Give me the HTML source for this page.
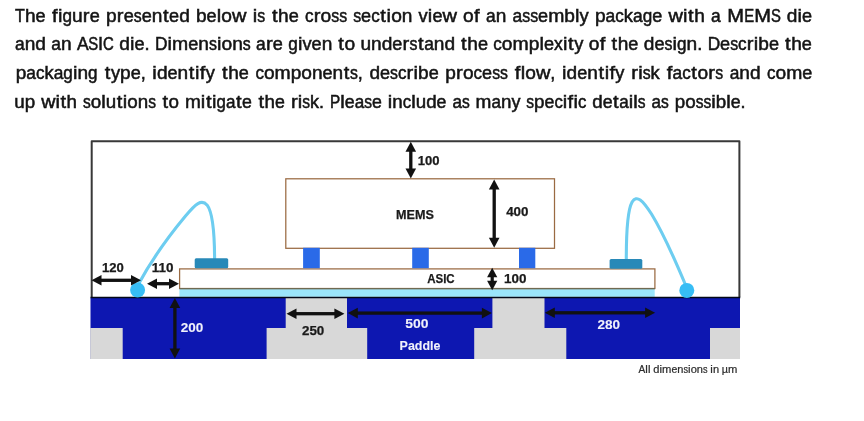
<!DOCTYPE html>
<html><head><meta charset="utf-8">
<style>
html,body{margin:0;padding:0;background:#fff;}
body{width:864px;height:421px;overflow:hidden;position:relative;}
svg{position:absolute;left:0;top:0;filter:blur(0.3px);}
.p{font-family:"Liberation Sans",sans-serif;font-size:17.5px;fill:#141414;stroke:#141414;stroke-width:0.5px;}
.b{font-family:"Liberation Sans",sans-serif;font-weight:bold;font-size:12.5px;fill:#1a1a1a;stroke:#1a1a1a;stroke-width:0.25px;}
.w{fill:#f0f1fb;stroke:#f0f1fb;stroke-width:0.1px;}
.s{font-family:"Liberation Sans",sans-serif;font-size:10px;fill:#2c2c2c;stroke:#2c2c2c;stroke-width:0.2px;}
</style></head>
<body>
<svg width="864" height="421" viewBox="0 0 864 421">
<text class="p" y="21.5"><tspan x="15.04" textLength="9.86" lengthAdjust="spacingAndGlyphs">T</tspan><tspan x="24.90" textLength="10.63" lengthAdjust="spacingAndGlyphs">h</tspan><tspan x="35.52" textLength="10.06" lengthAdjust="spacingAndGlyphs">e</tspan> <tspan x="52.05" textLength="5.59" lengthAdjust="spacingAndGlyphs">f</tspan><tspan x="58.01" textLength="4.47" lengthAdjust="spacingAndGlyphs">i</tspan><tspan x="62.57" textLength="9.52" lengthAdjust="spacingAndGlyphs">g</tspan><tspan x="72.09" textLength="10.63" lengthAdjust="spacingAndGlyphs">u</tspan><tspan x="82.89" textLength="6.70" lengthAdjust="spacingAndGlyphs">r</tspan><tspan x="89.77" textLength="10.06" lengthAdjust="spacingAndGlyphs">e</tspan> <tspan x="106.00" textLength="10.63" lengthAdjust="spacingAndGlyphs">p</tspan><tspan x="116.80" textLength="6.70" lengthAdjust="spacingAndGlyphs">r</tspan><tspan x="123.68" textLength="10.06" lengthAdjust="spacingAndGlyphs">e</tspan><tspan x="133.74" textLength="7.91" lengthAdjust="spacingAndGlyphs">s</tspan><tspan x="141.66" textLength="10.06" lengthAdjust="spacingAndGlyphs">e</tspan><tspan x="151.72" textLength="10.63" lengthAdjust="spacingAndGlyphs">n</tspan><tspan x="162.94" textLength="5.59" lengthAdjust="spacingAndGlyphs">t</tspan><tspan x="169.12" textLength="10.06" lengthAdjust="spacingAndGlyphs">e</tspan><tspan x="179.19" textLength="10.63" lengthAdjust="spacingAndGlyphs">d</tspan> <tspan x="195.98" textLength="10.63" lengthAdjust="spacingAndGlyphs">b</tspan><tspan x="206.61" textLength="10.06" lengthAdjust="spacingAndGlyphs">e</tspan><tspan x="216.76" textLength="4.47" lengthAdjust="spacingAndGlyphs">l</tspan><tspan x="221.31" textLength="10.67" lengthAdjust="spacingAndGlyphs">o</tspan><tspan x="231.98" textLength="14.46" lengthAdjust="spacingAndGlyphs">w</tspan> <tspan x="252.69" textLength="4.47" lengthAdjust="spacingAndGlyphs">i</tspan><tspan x="257.25" textLength="7.91" lengthAdjust="spacingAndGlyphs">s</tspan> <tspan x="271.92" textLength="5.59" lengthAdjust="spacingAndGlyphs">t</tspan><tspan x="278.10" textLength="10.63" lengthAdjust="spacingAndGlyphs">h</tspan><tspan x="288.73" textLength="10.06" lengthAdjust="spacingAndGlyphs">e</tspan> <tspan x="304.96" textLength="8.55" lengthAdjust="spacingAndGlyphs">c</tspan><tspan x="313.69" textLength="6.70" lengthAdjust="spacingAndGlyphs">r</tspan><tspan x="320.57" textLength="10.67" lengthAdjust="spacingAndGlyphs">o</tspan><tspan x="331.23" textLength="7.91" lengthAdjust="spacingAndGlyphs">s</tspan><tspan x="339.14" textLength="7.91" lengthAdjust="spacingAndGlyphs">s</tspan> <tspan x="353.22" textLength="7.91" lengthAdjust="spacingAndGlyphs">s</tspan><tspan x="361.13" textLength="10.06" lengthAdjust="spacingAndGlyphs">e</tspan><tspan x="371.20" textLength="8.55" lengthAdjust="spacingAndGlyphs">c</tspan><tspan x="380.34" textLength="5.59" lengthAdjust="spacingAndGlyphs">t</tspan><tspan x="386.61" textLength="4.47" lengthAdjust="spacingAndGlyphs">i</tspan><tspan x="391.17" textLength="10.67" lengthAdjust="spacingAndGlyphs">o</tspan><tspan x="401.83" textLength="10.63" lengthAdjust="spacingAndGlyphs">n</tspan> <tspan x="418.63" textLength="9.14" lengthAdjust="spacingAndGlyphs">v</tspan><tspan x="427.85" textLength="4.47" lengthAdjust="spacingAndGlyphs">i</tspan><tspan x="432.41" textLength="10.06" lengthAdjust="spacingAndGlyphs">e</tspan><tspan x="442.47" textLength="14.46" lengthAdjust="spacingAndGlyphs">w</tspan> <tspan x="463.10" textLength="10.67" lengthAdjust="spacingAndGlyphs">o</tspan><tspan x="474.05" textLength="5.59" lengthAdjust="spacingAndGlyphs">f</tspan> <tspan x="486.10" textLength="9.69" lengthAdjust="spacingAndGlyphs">a</tspan><tspan x="495.79" textLength="10.63" lengthAdjust="spacingAndGlyphs">n</tspan> <tspan x="512.58" textLength="9.69" lengthAdjust="spacingAndGlyphs">a</tspan><tspan x="522.27" textLength="7.91" lengthAdjust="spacingAndGlyphs">s</tspan><tspan x="530.18" textLength="7.91" lengthAdjust="spacingAndGlyphs">s</tspan><tspan x="538.10" textLength="10.06" lengthAdjust="spacingAndGlyphs">e</tspan><tspan x="548.16" textLength="16.16" lengthAdjust="spacingAndGlyphs">m</tspan><tspan x="564.32" textLength="10.63" lengthAdjust="spacingAndGlyphs">b</tspan><tspan x="575.03" textLength="4.47" lengthAdjust="spacingAndGlyphs">l</tspan><tspan x="579.59" textLength="9.16" lengthAdjust="spacingAndGlyphs">y</tspan> <tspan x="594.91" textLength="10.63" lengthAdjust="spacingAndGlyphs">p</tspan><tspan x="605.54" textLength="9.69" lengthAdjust="spacingAndGlyphs">a</tspan><tspan x="615.23" textLength="8.55" lengthAdjust="spacingAndGlyphs">c</tspan><tspan x="623.78" textLength="9.20" lengthAdjust="spacingAndGlyphs">k</tspan><tspan x="632.97" textLength="9.69" lengthAdjust="spacingAndGlyphs">a</tspan><tspan x="642.66" textLength="9.52" lengthAdjust="spacingAndGlyphs">g</tspan><tspan x="652.18" textLength="10.06" lengthAdjust="spacingAndGlyphs">e</tspan> <tspan x="668.41" textLength="14.46" lengthAdjust="spacingAndGlyphs">w</tspan><tspan x="682.96" textLength="4.47" lengthAdjust="spacingAndGlyphs">i</tspan><tspan x="688.11" textLength="5.59" lengthAdjust="spacingAndGlyphs">t</tspan><tspan x="694.29" textLength="10.63" lengthAdjust="spacingAndGlyphs">h</tspan> <tspan x="711.08" textLength="9.69" lengthAdjust="spacingAndGlyphs">a</tspan> <tspan x="727.21" textLength="16.76" lengthAdjust="spacingAndGlyphs">M</tspan><tspan x="744.21" textLength="9.92" lengthAdjust="spacingAndGlyphs">E</tspan><tspan x="754.38" textLength="16.76" lengthAdjust="spacingAndGlyphs">M</tspan><tspan x="771.09" textLength="9.92" lengthAdjust="spacingAndGlyphs">S</tspan> <tspan x="786.87" textLength="10.63" lengthAdjust="spacingAndGlyphs">d</tspan><tspan x="797.58" textLength="4.47" lengthAdjust="spacingAndGlyphs">i</tspan><tspan x="802.13" textLength="10.06" lengthAdjust="spacingAndGlyphs">e</tspan></text>
<text class="p" y="50.2"><tspan x="14.99" textLength="9.70" lengthAdjust="spacingAndGlyphs">a</tspan><tspan x="24.68" textLength="10.64" lengthAdjust="spacingAndGlyphs">n</tspan><tspan x="35.32" textLength="10.64" lengthAdjust="spacingAndGlyphs">d</tspan> <tspan x="51.29" textLength="9.70" lengthAdjust="spacingAndGlyphs">a</tspan><tspan x="60.99" textLength="10.64" lengthAdjust="spacingAndGlyphs">n</tspan> <tspan x="76.96" textLength="11.71" lengthAdjust="spacingAndGlyphs">A</tspan><tspan x="88.37" textLength="9.92" lengthAdjust="spacingAndGlyphs">S</tspan><tspan x="97.98" textLength="5.10" lengthAdjust="spacingAndGlyphs">I</tspan><tspan x="103.08" textLength="10.79" lengthAdjust="spacingAndGlyphs">C</tspan> <tspan x="119.21" textLength="10.64" lengthAdjust="spacingAndGlyphs">d</tspan><tspan x="129.93" textLength="4.47" lengthAdjust="spacingAndGlyphs">i</tspan><tspan x="134.49" textLength="10.07" lengthAdjust="spacingAndGlyphs">e</tspan><tspan x="144.57" textLength="5.11" lengthAdjust="spacingAndGlyphs">.</tspan> <tspan x="155.01" textLength="12.45" lengthAdjust="spacingAndGlyphs">D</tspan><tspan x="167.56" textLength="4.47" lengthAdjust="spacingAndGlyphs">i</tspan><tspan x="172.11" textLength="16.17" lengthAdjust="spacingAndGlyphs">m</tspan><tspan x="188.28" textLength="10.07" lengthAdjust="spacingAndGlyphs">e</tspan><tspan x="198.36" textLength="10.64" lengthAdjust="spacingAndGlyphs">n</tspan><tspan x="208.99" textLength="7.92" lengthAdjust="spacingAndGlyphs">s</tspan><tspan x="217.00" textLength="4.47" lengthAdjust="spacingAndGlyphs">i</tspan><tspan x="221.56" textLength="10.68" lengthAdjust="spacingAndGlyphs">o</tspan><tspan x="232.23" textLength="10.64" lengthAdjust="spacingAndGlyphs">n</tspan><tspan x="242.87" textLength="7.92" lengthAdjust="spacingAndGlyphs">s</tspan> <tspan x="256.12" textLength="9.70" lengthAdjust="spacingAndGlyphs">a</tspan><tspan x="266.00" textLength="6.70" lengthAdjust="spacingAndGlyphs">r</tspan><tspan x="272.88" textLength="10.07" lengthAdjust="spacingAndGlyphs">e</tspan> <tspan x="288.29" textLength="9.53" lengthAdjust="spacingAndGlyphs">g</tspan><tspan x="297.90" textLength="4.47" lengthAdjust="spacingAndGlyphs">i</tspan><tspan x="302.46" textLength="9.14" lengthAdjust="spacingAndGlyphs">v</tspan><tspan x="311.61" textLength="10.07" lengthAdjust="spacingAndGlyphs">e</tspan><tspan x="321.68" textLength="10.64" lengthAdjust="spacingAndGlyphs">n</tspan> <tspan x="338.25" textLength="5.59" lengthAdjust="spacingAndGlyphs">t</tspan><tspan x="344.43" textLength="10.68" lengthAdjust="spacingAndGlyphs">o</tspan> <tspan x="360.45" textLength="10.64" lengthAdjust="spacingAndGlyphs">u</tspan><tspan x="371.08" textLength="10.64" lengthAdjust="spacingAndGlyphs">n</tspan><tspan x="381.72" textLength="10.64" lengthAdjust="spacingAndGlyphs">d</tspan><tspan x="392.35" textLength="10.07" lengthAdjust="spacingAndGlyphs">e</tspan><tspan x="402.60" textLength="6.70" lengthAdjust="spacingAndGlyphs">r</tspan><tspan x="409.48" textLength="7.92" lengthAdjust="spacingAndGlyphs">s</tspan><tspan x="418.00" textLength="5.59" lengthAdjust="spacingAndGlyphs">t</tspan><tspan x="424.18" textLength="9.70" lengthAdjust="spacingAndGlyphs">a</tspan><tspan x="433.88" textLength="10.64" lengthAdjust="spacingAndGlyphs">n</tspan><tspan x="444.51" textLength="10.64" lengthAdjust="spacingAndGlyphs">d</tspan> <tspan x="461.08" textLength="5.59" lengthAdjust="spacingAndGlyphs">t</tspan><tspan x="467.27" textLength="10.64" lengthAdjust="spacingAndGlyphs">h</tspan><tspan x="477.90" textLength="10.07" lengthAdjust="spacingAndGlyphs">e</tspan> <tspan x="493.31" textLength="8.56" lengthAdjust="spacingAndGlyphs">c</tspan><tspan x="501.87" textLength="10.68" lengthAdjust="spacingAndGlyphs">o</tspan><tspan x="512.55" textLength="16.17" lengthAdjust="spacingAndGlyphs">m</tspan><tspan x="528.72" textLength="10.64" lengthAdjust="spacingAndGlyphs">p</tspan><tspan x="539.44" textLength="4.47" lengthAdjust="spacingAndGlyphs">l</tspan><tspan x="544.00" textLength="10.07" lengthAdjust="spacingAndGlyphs">e</tspan><tspan x="554.07" textLength="8.77" lengthAdjust="spacingAndGlyphs">x</tspan><tspan x="562.93" textLength="4.47" lengthAdjust="spacingAndGlyphs">i</tspan><tspan x="568.08" textLength="5.59" lengthAdjust="spacingAndGlyphs">t</tspan><tspan x="574.27" textLength="9.16" lengthAdjust="spacingAndGlyphs">y</tspan> <tspan x="588.77" textLength="10.68" lengthAdjust="spacingAndGlyphs">o</tspan><tspan x="599.74" textLength="5.59" lengthAdjust="spacingAndGlyphs">f</tspan> <tspan x="611.56" textLength="5.59" lengthAdjust="spacingAndGlyphs">t</tspan><tspan x="617.74" textLength="10.64" lengthAdjust="spacingAndGlyphs">h</tspan><tspan x="628.38" textLength="10.07" lengthAdjust="spacingAndGlyphs">e</tspan> <tspan x="643.79" textLength="10.64" lengthAdjust="spacingAndGlyphs">d</tspan><tspan x="654.42" textLength="10.07" lengthAdjust="spacingAndGlyphs">e</tspan><tspan x="664.50" textLength="7.92" lengthAdjust="spacingAndGlyphs">s</tspan><tspan x="672.50" textLength="4.47" lengthAdjust="spacingAndGlyphs">i</tspan><tspan x="677.06" textLength="9.53" lengthAdjust="spacingAndGlyphs">g</tspan><tspan x="686.59" textLength="10.64" lengthAdjust="spacingAndGlyphs">n</tspan><tspan x="697.22" textLength="5.11" lengthAdjust="spacingAndGlyphs">.</tspan> <tspan x="707.67" textLength="12.45" lengthAdjust="spacingAndGlyphs">D</tspan><tspan x="720.13" textLength="10.07" lengthAdjust="spacingAndGlyphs">e</tspan><tspan x="730.20" textLength="7.92" lengthAdjust="spacingAndGlyphs">s</tspan><tspan x="738.12" textLength="8.56" lengthAdjust="spacingAndGlyphs">c</tspan><tspan x="746.85" textLength="6.70" lengthAdjust="spacingAndGlyphs">r</tspan><tspan x="753.82" textLength="4.47" lengthAdjust="spacingAndGlyphs">i</tspan><tspan x="758.38" textLength="10.64" lengthAdjust="spacingAndGlyphs">b</tspan><tspan x="769.02" textLength="10.07" lengthAdjust="spacingAndGlyphs">e</tspan> <tspan x="785.02" textLength="5.59" lengthAdjust="spacingAndGlyphs">t</tspan><tspan x="791.21" textLength="10.64" lengthAdjust="spacingAndGlyphs">h</tspan><tspan x="801.84" textLength="10.07" lengthAdjust="spacingAndGlyphs">e</tspan></text>
<text class="p" y="78.9"><tspan x="15.74" textLength="10.60" lengthAdjust="spacingAndGlyphs">p</tspan><tspan x="26.34" textLength="9.66" lengthAdjust="spacingAndGlyphs">a</tspan><tspan x="36.00" textLength="8.53" lengthAdjust="spacingAndGlyphs">c</tspan><tspan x="44.53" textLength="9.17" lengthAdjust="spacingAndGlyphs">k</tspan><tspan x="53.70" textLength="9.66" lengthAdjust="spacingAndGlyphs">a</tspan><tspan x="63.37" textLength="9.50" lengthAdjust="spacingAndGlyphs">g</tspan><tspan x="72.94" textLength="4.47" lengthAdjust="spacingAndGlyphs">i</tspan><tspan x="77.49" textLength="10.60" lengthAdjust="spacingAndGlyphs">n</tspan><tspan x="88.09" textLength="9.50" lengthAdjust="spacingAndGlyphs">g</tspan> <tspan x="104.75" textLength="5.59" lengthAdjust="spacingAndGlyphs">t</tspan><tspan x="110.92" textLength="9.13" lengthAdjust="spacingAndGlyphs">y</tspan><tspan x="120.05" textLength="10.60" lengthAdjust="spacingAndGlyphs">p</tspan><tspan x="130.65" textLength="10.04" lengthAdjust="spacingAndGlyphs">e</tspan><tspan x="140.69" textLength="5.03" lengthAdjust="spacingAndGlyphs">,</tspan> <tspan x="152.38" textLength="4.47" lengthAdjust="spacingAndGlyphs">i</tspan><tspan x="156.93" textLength="10.60" lengthAdjust="spacingAndGlyphs">d</tspan><tspan x="167.53" textLength="10.04" lengthAdjust="spacingAndGlyphs">e</tspan><tspan x="177.56" textLength="10.60" lengthAdjust="spacingAndGlyphs">n</tspan><tspan x="188.74" textLength="5.59" lengthAdjust="spacingAndGlyphs">t</tspan><tspan x="195.00" textLength="4.47" lengthAdjust="spacingAndGlyphs">i</tspan><tspan x="199.83" textLength="5.59" lengthAdjust="spacingAndGlyphs">f</tspan><tspan x="205.70" textLength="9.13" lengthAdjust="spacingAndGlyphs">y</tspan> <tspan x="222.00" textLength="5.59" lengthAdjust="spacingAndGlyphs">t</tspan><tspan x="228.17" textLength="10.60" lengthAdjust="spacingAndGlyphs">h</tspan><tspan x="238.77" textLength="10.04" lengthAdjust="spacingAndGlyphs">e</tspan> <tspan x="255.38" textLength="8.53" lengthAdjust="spacingAndGlyphs">c</tspan><tspan x="263.91" textLength="10.64" lengthAdjust="spacingAndGlyphs">o</tspan><tspan x="274.55" textLength="16.11" lengthAdjust="spacingAndGlyphs">m</tspan><tspan x="290.67" textLength="10.60" lengthAdjust="spacingAndGlyphs">p</tspan><tspan x="301.27" textLength="10.64" lengthAdjust="spacingAndGlyphs">o</tspan><tspan x="311.90" textLength="10.60" lengthAdjust="spacingAndGlyphs">n</tspan><tspan x="322.50" textLength="10.04" lengthAdjust="spacingAndGlyphs">e</tspan><tspan x="332.54" textLength="10.60" lengthAdjust="spacingAndGlyphs">n</tspan><tspan x="343.72" textLength="5.59" lengthAdjust="spacingAndGlyphs">t</tspan><tspan x="349.89" textLength="7.89" lengthAdjust="spacingAndGlyphs">s</tspan><tspan x="357.78" textLength="5.03" lengthAdjust="spacingAndGlyphs">,</tspan> <tspan x="369.40" textLength="10.60" lengthAdjust="spacingAndGlyphs">d</tspan><tspan x="379.99" textLength="10.04" lengthAdjust="spacingAndGlyphs">e</tspan><tspan x="390.03" textLength="7.89" lengthAdjust="spacingAndGlyphs">s</tspan><tspan x="397.92" textLength="8.53" lengthAdjust="spacingAndGlyphs">c</tspan><tspan x="406.62" textLength="6.70" lengthAdjust="spacingAndGlyphs">r</tspan><tspan x="413.56" textLength="4.47" lengthAdjust="spacingAndGlyphs">i</tspan><tspan x="418.11" textLength="10.60" lengthAdjust="spacingAndGlyphs">b</tspan><tspan x="428.71" textLength="10.04" lengthAdjust="spacingAndGlyphs">e</tspan> <tspan x="445.33" textLength="10.60" lengthAdjust="spacingAndGlyphs">p</tspan><tspan x="456.09" textLength="6.70" lengthAdjust="spacingAndGlyphs">r</tspan><tspan x="462.96" textLength="10.64" lengthAdjust="spacingAndGlyphs">o</tspan><tspan x="473.60" textLength="8.53" lengthAdjust="spacingAndGlyphs">c</tspan><tspan x="482.13" textLength="10.04" lengthAdjust="spacingAndGlyphs">e</tspan><tspan x="492.16" textLength="7.89" lengthAdjust="spacingAndGlyphs">s</tspan><tspan x="500.05" textLength="7.89" lengthAdjust="spacingAndGlyphs">s</tspan> <tspan x="514.80" textLength="5.59" lengthAdjust="spacingAndGlyphs">f</tspan><tspan x="520.76" textLength="4.47" lengthAdjust="spacingAndGlyphs">l</tspan><tspan x="525.31" textLength="10.64" lengthAdjust="spacingAndGlyphs">o</tspan><tspan x="535.95" textLength="14.42" lengthAdjust="spacingAndGlyphs">w</tspan><tspan x="550.37" textLength="5.03" lengthAdjust="spacingAndGlyphs">,</tspan> <tspan x="562.06" textLength="4.47" lengthAdjust="spacingAndGlyphs">i</tspan><tspan x="566.61" textLength="10.60" lengthAdjust="spacingAndGlyphs">d</tspan><tspan x="577.20" textLength="10.04" lengthAdjust="spacingAndGlyphs">e</tspan><tspan x="587.24" textLength="10.60" lengthAdjust="spacingAndGlyphs">n</tspan><tspan x="598.42" textLength="5.59" lengthAdjust="spacingAndGlyphs">t</tspan><tspan x="604.68" textLength="4.47" lengthAdjust="spacingAndGlyphs">i</tspan><tspan x="609.51" textLength="5.59" lengthAdjust="spacingAndGlyphs">f</tspan><tspan x="615.38" textLength="9.13" lengthAdjust="spacingAndGlyphs">y</tspan> <tspan x="631.26" textLength="6.70" lengthAdjust="spacingAndGlyphs">r</tspan><tspan x="638.20" textLength="4.47" lengthAdjust="spacingAndGlyphs">i</tspan><tspan x="642.75" textLength="7.89" lengthAdjust="spacingAndGlyphs">s</tspan><tspan x="650.64" textLength="9.17" lengthAdjust="spacingAndGlyphs">k</tspan> <tspan x="666.67" textLength="5.59" lengthAdjust="spacingAndGlyphs">f</tspan><tspan x="672.55" textLength="9.66" lengthAdjust="spacingAndGlyphs">a</tspan><tspan x="682.21" textLength="8.53" lengthAdjust="spacingAndGlyphs">c</tspan><tspan x="691.32" textLength="5.59" lengthAdjust="spacingAndGlyphs">t</tspan><tspan x="697.50" textLength="10.64" lengthAdjust="spacingAndGlyphs">o</tspan><tspan x="708.30" textLength="6.70" lengthAdjust="spacingAndGlyphs">r</tspan><tspan x="715.17" textLength="7.89" lengthAdjust="spacingAndGlyphs">s</tspan> <tspan x="729.64" textLength="9.66" lengthAdjust="spacingAndGlyphs">a</tspan><tspan x="739.30" textLength="10.60" lengthAdjust="spacingAndGlyphs">n</tspan><tspan x="749.90" textLength="10.60" lengthAdjust="spacingAndGlyphs">d</tspan> <tspan x="767.07" textLength="8.53" lengthAdjust="spacingAndGlyphs">c</tspan><tspan x="775.60" textLength="10.64" lengthAdjust="spacingAndGlyphs">o</tspan><tspan x="786.24" textLength="16.11" lengthAdjust="spacingAndGlyphs">m</tspan><tspan x="802.36" textLength="10.04" lengthAdjust="spacingAndGlyphs">e</tspan></text>
<text class="p" y="107.6"><tspan x="14.37" textLength="10.43" lengthAdjust="spacingAndGlyphs">u</tspan><tspan x="24.79" textLength="10.43" lengthAdjust="spacingAndGlyphs">p</tspan> <tspan x="41.17" textLength="14.19" lengthAdjust="spacingAndGlyphs">w</tspan><tspan x="55.40" textLength="4.47" lengthAdjust="spacingAndGlyphs">i</tspan><tspan x="60.44" textLength="5.59" lengthAdjust="spacingAndGlyphs">t</tspan><tspan x="66.56" textLength="10.43" lengthAdjust="spacingAndGlyphs">h</tspan> <tspan x="82.93" textLength="7.76" lengthAdjust="spacingAndGlyphs">s</tspan><tspan x="90.69" textLength="10.46" lengthAdjust="spacingAndGlyphs">o</tspan><tspan x="101.20" textLength="4.47" lengthAdjust="spacingAndGlyphs">l</tspan><tspan x="105.71" textLength="10.43" lengthAdjust="spacingAndGlyphs">u</tspan><tspan x="116.66" textLength="5.59" lengthAdjust="spacingAndGlyphs">t</tspan><tspan x="122.83" textLength="4.47" lengthAdjust="spacingAndGlyphs">i</tspan><tspan x="127.34" textLength="10.46" lengthAdjust="spacingAndGlyphs">o</tspan><tspan x="137.80" textLength="10.43" lengthAdjust="spacingAndGlyphs">n</tspan><tspan x="148.23" textLength="7.76" lengthAdjust="spacingAndGlyphs">s</tspan> <tspan x="162.47" textLength="5.59" lengthAdjust="spacingAndGlyphs">t</tspan><tspan x="168.59" textLength="10.46" lengthAdjust="spacingAndGlyphs">o</tspan> <tspan x="185.00" textLength="15.85" lengthAdjust="spacingAndGlyphs">m</tspan><tspan x="200.89" textLength="4.47" lengthAdjust="spacingAndGlyphs">i</tspan><tspan x="205.93" textLength="5.59" lengthAdjust="spacingAndGlyphs">t</tspan><tspan x="212.09" textLength="4.47" lengthAdjust="spacingAndGlyphs">i</tspan><tspan x="216.61" textLength="9.34" lengthAdjust="spacingAndGlyphs">g</tspan><tspan x="225.95" textLength="9.51" lengthAdjust="spacingAndGlyphs">a</tspan><tspan x="235.98" textLength="5.59" lengthAdjust="spacingAndGlyphs">t</tspan><tspan x="242.10" textLength="9.87" lengthAdjust="spacingAndGlyphs">e</tspan> <tspan x="258.45" textLength="5.59" lengthAdjust="spacingAndGlyphs">t</tspan><tspan x="264.57" textLength="10.43" lengthAdjust="spacingAndGlyphs">h</tspan><tspan x="274.99" textLength="9.87" lengthAdjust="spacingAndGlyphs">e</tspan> <tspan x="290.92" textLength="6.70" lengthAdjust="spacingAndGlyphs">r</tspan><tspan x="297.78" textLength="4.47" lengthAdjust="spacingAndGlyphs">i</tspan><tspan x="302.29" textLength="7.76" lengthAdjust="spacingAndGlyphs">s</tspan><tspan x="310.05" textLength="9.02" lengthAdjust="spacingAndGlyphs">k</tspan><tspan x="319.07" textLength="5.01" lengthAdjust="spacingAndGlyphs">.</tspan> <tspan x="330.03" textLength="10.25" lengthAdjust="spacingAndGlyphs">P</tspan><tspan x="340.32" textLength="4.47" lengthAdjust="spacingAndGlyphs">l</tspan><tspan x="344.83" textLength="9.87" lengthAdjust="spacingAndGlyphs">e</tspan><tspan x="354.71" textLength="9.51" lengthAdjust="spacingAndGlyphs">a</tspan><tspan x="364.21" textLength="7.76" lengthAdjust="spacingAndGlyphs">s</tspan><tspan x="371.97" textLength="9.87" lengthAdjust="spacingAndGlyphs">e</tspan> <tspan x="387.84" textLength="4.47" lengthAdjust="spacingAndGlyphs">i</tspan><tspan x="392.35" textLength="10.43" lengthAdjust="spacingAndGlyphs">n</tspan><tspan x="402.78" textLength="8.39" lengthAdjust="spacingAndGlyphs">c</tspan><tspan x="411.21" textLength="4.47" lengthAdjust="spacingAndGlyphs">l</tspan><tspan x="415.72" textLength="10.43" lengthAdjust="spacingAndGlyphs">u</tspan><tspan x="426.15" textLength="10.43" lengthAdjust="spacingAndGlyphs">d</tspan><tspan x="436.57" textLength="9.87" lengthAdjust="spacingAndGlyphs">e</tspan> <tspan x="452.40" textLength="9.51" lengthAdjust="spacingAndGlyphs">a</tspan><tspan x="461.90" textLength="7.76" lengthAdjust="spacingAndGlyphs">s</tspan> <tspan x="475.61" textLength="15.85" lengthAdjust="spacingAndGlyphs">m</tspan><tspan x="491.46" textLength="9.51" lengthAdjust="spacingAndGlyphs">a</tspan><tspan x="500.97" textLength="10.43" lengthAdjust="spacingAndGlyphs">n</tspan><tspan x="511.40" textLength="8.98" lengthAdjust="spacingAndGlyphs">y</tspan> <tspan x="526.33" textLength="7.76" lengthAdjust="spacingAndGlyphs">s</tspan><tspan x="534.09" textLength="10.43" lengthAdjust="spacingAndGlyphs">p</tspan><tspan x="544.51" textLength="9.87" lengthAdjust="spacingAndGlyphs">e</tspan><tspan x="554.39" textLength="8.39" lengthAdjust="spacingAndGlyphs">c</tspan><tspan x="562.82" textLength="4.47" lengthAdjust="spacingAndGlyphs">i</tspan><tspan x="567.56" textLength="5.59" lengthAdjust="spacingAndGlyphs">f</tspan><tspan x="573.43" textLength="4.47" lengthAdjust="spacingAndGlyphs">i</tspan><tspan x="577.94" textLength="8.39" lengthAdjust="spacingAndGlyphs">c</tspan> <tspan x="592.28" textLength="10.43" lengthAdjust="spacingAndGlyphs">d</tspan><tspan x="602.71" textLength="9.87" lengthAdjust="spacingAndGlyphs">e</tspan><tspan x="613.11" textLength="5.59" lengthAdjust="spacingAndGlyphs">t</tspan><tspan x="619.23" textLength="9.51" lengthAdjust="spacingAndGlyphs">a</tspan><tspan x="628.78" textLength="4.47" lengthAdjust="spacingAndGlyphs">i</tspan><tspan x="633.33" textLength="4.47" lengthAdjust="spacingAndGlyphs">l</tspan><tspan x="637.84" textLength="7.76" lengthAdjust="spacingAndGlyphs">s</tspan> <tspan x="651.55" textLength="9.51" lengthAdjust="spacingAndGlyphs">a</tspan><tspan x="661.06" textLength="7.76" lengthAdjust="spacingAndGlyphs">s</tspan> <tspan x="674.77" textLength="10.43" lengthAdjust="spacingAndGlyphs">p</tspan><tspan x="685.19" textLength="10.46" lengthAdjust="spacingAndGlyphs">o</tspan><tspan x="695.66" textLength="7.76" lengthAdjust="spacingAndGlyphs">s</tspan><tspan x="703.42" textLength="7.76" lengthAdjust="spacingAndGlyphs">s</tspan><tspan x="711.22" textLength="4.47" lengthAdjust="spacingAndGlyphs">i</tspan><tspan x="715.73" textLength="10.43" lengthAdjust="spacingAndGlyphs">b</tspan><tspan x="726.20" textLength="4.47" lengthAdjust="spacingAndGlyphs">l</tspan><tspan x="730.71" textLength="9.87" lengthAdjust="spacingAndGlyphs">e</tspan><tspan x="740.59" textLength="5.01" lengthAdjust="spacingAndGlyphs">.</tspan></text>
<rect x="90.5" y="297.5" width="649.5" height="61.5" fill="#0d17b1"/>
<g fill="#d8d8d8">
<rect x="90.2" y="328" width="32.5" height="31"/>
<rect x="285.7" y="297.5" width="61.3" height="31"/>
<rect x="266.6" y="328" width="100.6" height="31"/>
<rect x="492.4" y="297.5" width="52.1" height="31"/>
<rect x="474.2" y="328" width="92.1" height="31"/>
<rect x="710" y="328" width="30" height="31"/>
</g>
<rect x="179.4" y="289" width="475.3" height="7.8" fill="#9be5fb"/>
<path d="M91.7,297 V141.2 H739.4 V297" fill="none" stroke="#383838" stroke-width="2" stroke-linejoin="round"/>
<line x1="90.5" y1="297.4" x2="740.3" y2="297.4" stroke="#030818" stroke-width="1.5"/>
<rect x="179.6" y="268.9" width="475.3" height="19.6" fill="#fff" stroke="#9a6a42" stroke-width="1.25"/>
<line x1="179.6" y1="288.7" x2="654.9" y2="288.7" stroke="#6f6a52" stroke-width="1.2"/>
<rect x="285.8" y="178.8" width="268.7" height="69.5" fill="#fff" stroke="#9a6a42" stroke-width="1.25"/>
<g fill="#2a6ae8">
<rect x="303.1" y="247.8" width="16.7" height="20.4"/>
<rect x="412.2" y="247.8" width="16.6" height="20.4"/>
<rect x="519" y="247.8" width="16.3" height="20.4"/>
</g>
<path d="M214.6,258.5 C214.5,235 213,213 207.2,205.2 C201.5,198.5 195.5,204 185.5,216 C170.5,234 152,259 138,285" fill="none" stroke="#6dcdf0" stroke-width="3.1" stroke-linecap="round"/>
<path d="M626.3,259 C626.3,236 627,211 632,202.2 C637,194.5 642.5,200 651.5,214 C662.5,232 676,262 686.8,288" fill="none" stroke="#6dcdf0" stroke-width="3.1" stroke-linecap="round"/>
<rect x="194.7" y="258.3" width="33.5" height="10" rx="1.5" fill="#2889b8"/>
<rect x="609.6" y="258.9" width="32.7" height="9.9" rx="1.5" fill="#2889b8"/>
<circle cx="137.6" cy="290" r="7.5" fill="#37bdf5"/>
<circle cx="686.8" cy="290.4" r="7.5" fill="#37bdf5"/>
<rect x="409.15" y="150.80" width="3.3" height="18.60" fill="#111"/>
<polygon points="410.8,141.8 405.5,151.8 416.1,151.8" fill="#111"/>
<polygon points="410.8,178.4 405.5,168.4 416.1,168.4" fill="#111"/>
<rect x="492.55" y="188.60" width="3.3" height="50.20" fill="#111"/>
<polygon points="494.2,179.6 488.9,189.6 499.5,189.6" fill="#111"/>
<polygon points="494.2,247.8 488.9,237.8 499.5,237.8" fill="#111"/>
<rect x="100.50" y="278.65" width="31.50" height="3.3" fill="#111"/>
<polygon points="91.5,280.3 101.5,275.0 101.5,285.6" fill="#111"/>
<polygon points="141.0,280.3 131.0,275.0 131.0,285.6" fill="#111"/>
<rect x="156.00" y="282.05" width="14.00" height="3.3" fill="#111"/>
<polygon points="147.0,283.7 157.0,278.4 157.0,289.0" fill="#111"/>
<polygon points="179.0,283.7 169.0,278.4 169.0,289.0" fill="#111"/>
<rect x="173.25" y="307.00" width="3.3" height="42.60" fill="#111"/>
<polygon points="174.9,298.0 169.6,308.0 180.2,308.0" fill="#111"/>
<polygon points="174.9,358.6 169.6,348.6 180.2,348.6" fill="#111"/>
<rect x="295.50" y="312.05" width="39.90" height="3.3" fill="#111"/>
<polygon points="286.5,313.7 296.5,308.4 296.5,319.0" fill="#111"/>
<polygon points="344.4,313.7 334.4,308.4 334.4,319.0" fill="#111"/>
<rect x="356.80" y="311.45" width="126.10" height="3.3" fill="#111"/>
<polygon points="347.8,313.1 357.8,307.8 357.8,318.4" fill="#111"/>
<polygon points="491.9,313.1 481.9,307.8 481.9,318.4" fill="#111"/>
<rect x="553.80" y="311.15" width="92.30" height="3.3" fill="#111"/>
<polygon points="544.8,312.8 554.8,307.5 554.8,318.1" fill="#111"/>
<polygon points="655.1,312.8 645.1,307.5 645.1,318.1" fill="#111"/>
<polygon points="492.2,267.8 487.1,277.2 497.3,277.2" fill="#111"/>
<polygon points="492.2,290.3 487.1,280.8 497.3,280.8" fill="#111"/>
<rect x="490.6" y="276.5" width="3.2" height="5" fill="#111"/>
<text class="b" x="417.8" y="165.1" textLength="21.8" lengthAdjust="spacingAndGlyphs">100</text>
<text class="b" x="396" y="219.2" textLength="37.8" lengthAdjust="spacingAndGlyphs">MEMS</text>
<text class="b" x="506.2" y="216.2" textLength="22.3" lengthAdjust="spacingAndGlyphs">400</text>
<text class="b" x="427.2" y="283.4" textLength="27.5" lengthAdjust="spacingAndGlyphs">ASIC</text>
<text class="b" x="504" y="283.0" textLength="22.4" lengthAdjust="spacingAndGlyphs">100</text>
<text class="b" x="101.9" y="271.5" textLength="21.8" lengthAdjust="spacingAndGlyphs">120</text>
<text class="b" x="151.8" y="272.1" textLength="21.7" lengthAdjust="spacingAndGlyphs">110</text>
<text class="b w" x="180.8" y="331.8" textLength="22.5" lengthAdjust="spacingAndGlyphs">200</text>
<text class="b" x="302" y="334.5" textLength="22.3" lengthAdjust="spacingAndGlyphs">250</text>
<text class="b w" x="405.2" y="327.6" textLength="23.2" lengthAdjust="spacingAndGlyphs">500</text>
<text class="b w" x="399.6" y="350.2" textLength="40.8" lengthAdjust="spacingAndGlyphs">Paddle</text>
<text class="b w" x="597.5" y="328.5" textLength="22.6" lengthAdjust="spacingAndGlyphs">280</text>
<text class="s" y="373.1"><tspan x="638.50" textLength="6.77" lengthAdjust="spacingAndGlyphs">A</tspan><tspan x="645.34" textLength="2.55" lengthAdjust="spacingAndGlyphs">l</tspan><tspan x="648.02" textLength="2.55" lengthAdjust="spacingAndGlyphs">l</tspan> <tspan x="653.29" textLength="6.15" lengthAdjust="spacingAndGlyphs">d</tspan><tspan x="659.50" textLength="2.55" lengthAdjust="spacingAndGlyphs">i</tspan><tspan x="662.12" textLength="9.35" lengthAdjust="spacingAndGlyphs">m</tspan><tspan x="671.47" textLength="5.82" lengthAdjust="spacingAndGlyphs">e</tspan><tspan x="677.29" textLength="6.15" lengthAdjust="spacingAndGlyphs">n</tspan><tspan x="683.44" textLength="4.58" lengthAdjust="spacingAndGlyphs">s</tspan><tspan x="688.08" textLength="2.55" lengthAdjust="spacingAndGlyphs">i</tspan><tspan x="690.70" textLength="6.17" lengthAdjust="spacingAndGlyphs">o</tspan><tspan x="696.87" textLength="6.15" lengthAdjust="spacingAndGlyphs">n</tspan><tspan x="703.02" textLength="4.58" lengthAdjust="spacingAndGlyphs">s</tspan> <tspan x="710.31" textLength="2.55" lengthAdjust="spacingAndGlyphs">i</tspan><tspan x="712.93" textLength="6.15" lengthAdjust="spacingAndGlyphs">n</tspan> <tspan x="721.72" textLength="6.23" lengthAdjust="spacingAndGlyphs">µ</tspan><tspan x="727.95" textLength="9.35" lengthAdjust="spacingAndGlyphs">m</tspan></text>
</svg>
</body></html>
